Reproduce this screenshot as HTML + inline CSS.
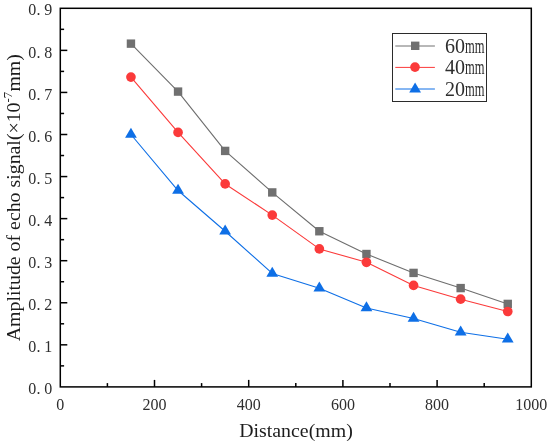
<!DOCTYPE html>
<html lang="en"><head><meta charset="utf-8"><title>Amplitude of echo signal vs Distance</title>
<style>html,body{margin:0;padding:0;background:#fff;}body{width:550px;height:445px;overflow:hidden;}svg{display:block;}text{font-family:"Liberation Serif",serif;fill:#2e2e2e;}.tk{font-size:16px;}.lg{font-size:20px;}.ttl{font-size:19.85px;fill:#1c1c1c;}</style></head><body>
<svg width="550" height="445" viewBox="0 0 550 445">
<rect x="0" y="0" width="550" height="445" fill="#ffffff"/>
<polyline points="130.95,43.64 178.05,91.59 225.15,150.91 272.25,192.43 319.35,231.25 366.45,254.01 413.55,272.90 460.65,288.09 507.75,303.90" fill="none" stroke="#6e6e6e" stroke-width="1.1" stroke-linejoin="round"/>
<rect x="126.75" y="39.44" width="8.40" height="8.40" fill="#707070"/>
<rect x="173.85" y="87.39" width="8.40" height="8.40" fill="#707070"/>
<rect x="220.95" y="146.71" width="8.40" height="8.40" fill="#707070"/>
<rect x="268.05" y="188.23" width="8.40" height="8.40" fill="#707070"/>
<rect x="315.15" y="227.05" width="8.40" height="8.40" fill="#707070"/>
<rect x="362.25" y="249.81" width="8.40" height="8.40" fill="#707070"/>
<rect x="409.35" y="268.70" width="8.40" height="8.40" fill="#707070"/>
<rect x="456.45" y="283.89" width="8.40" height="8.40" fill="#707070"/>
<rect x="503.55" y="299.70" width="8.40" height="8.40" fill="#707070"/>
<polyline points="130.95,77.08 178.05,132.40 225.15,183.93 272.25,215.10 319.35,248.92 366.45,262.30 413.55,285.44 460.65,299.19 507.75,311.52" fill="none" stroke="#fb3a3a" stroke-width="1.1" stroke-linejoin="round"/>
<circle cx="130.95" cy="77.08" r="4.85" fill="#fb3a3a"/>
<circle cx="178.05" cy="132.40" r="4.85" fill="#fb3a3a"/>
<circle cx="225.15" cy="183.93" r="4.85" fill="#fb3a3a"/>
<circle cx="272.25" cy="215.10" r="4.85" fill="#fb3a3a"/>
<circle cx="319.35" cy="248.92" r="4.85" fill="#fb3a3a"/>
<circle cx="366.45" cy="262.30" r="4.85" fill="#fb3a3a"/>
<circle cx="413.55" cy="285.44" r="4.85" fill="#fb3a3a"/>
<circle cx="460.65" cy="299.19" r="4.85" fill="#fb3a3a"/>
<circle cx="507.75" cy="311.52" r="4.85" fill="#fb3a3a"/>
<polyline points="130.95,134.50 178.05,190.53 225.15,231.25 272.25,273.40 319.35,288.25 366.45,308.02 413.55,318.46 460.65,332.21 507.75,339.20" fill="none" stroke="#0e6fe6" stroke-width="1.1" stroke-linejoin="round"/>
<polygon points="130.95,127.83 125.05,137.83 136.85,137.83" fill="#0e6fe6"/>
<polygon points="178.05,183.87 172.15,193.87 183.95,193.87" fill="#0e6fe6"/>
<polygon points="225.15,224.59 219.25,234.59 231.05,234.59" fill="#0e6fe6"/>
<polygon points="272.25,266.74 266.35,276.74 278.15,276.74" fill="#0e6fe6"/>
<polygon points="319.35,281.59 313.45,291.59 325.25,291.59" fill="#0e6fe6"/>
<polygon points="366.45,301.36 360.55,311.36 372.35,311.36" fill="#0e6fe6"/>
<polygon points="413.55,311.79 407.65,321.79 419.45,321.79" fill="#0e6fe6"/>
<polygon points="460.65,325.55 454.75,335.55 466.55,335.55" fill="#0e6fe6"/>
<polygon points="507.75,332.53 501.85,342.53 513.65,342.53" fill="#0e6fe6"/>
<rect x="60.30" y="8.30" width="471.00" height="378.60" fill="none" stroke="#000" stroke-width="1.5"/>
<line x1="60.30" y1="365.87" x2="64.10" y2="365.87" stroke="#000" stroke-width="1.5"/>
<line x1="60.30" y1="344.83" x2="67.30" y2="344.83" stroke="#000" stroke-width="1.5"/>
<line x1="60.30" y1="323.80" x2="64.10" y2="323.80" stroke="#000" stroke-width="1.5"/>
<line x1="60.30" y1="302.77" x2="67.30" y2="302.77" stroke="#000" stroke-width="1.5"/>
<line x1="60.30" y1="281.73" x2="64.10" y2="281.73" stroke="#000" stroke-width="1.5"/>
<line x1="60.30" y1="260.70" x2="67.30" y2="260.70" stroke="#000" stroke-width="1.5"/>
<line x1="60.30" y1="239.67" x2="64.10" y2="239.67" stroke="#000" stroke-width="1.5"/>
<line x1="60.30" y1="218.63" x2="67.30" y2="218.63" stroke="#000" stroke-width="1.5"/>
<line x1="60.30" y1="197.60" x2="64.10" y2="197.60" stroke="#000" stroke-width="1.5"/>
<line x1="60.30" y1="176.57" x2="67.30" y2="176.57" stroke="#000" stroke-width="1.5"/>
<line x1="60.30" y1="155.53" x2="64.10" y2="155.53" stroke="#000" stroke-width="1.5"/>
<line x1="60.30" y1="134.50" x2="67.30" y2="134.50" stroke="#000" stroke-width="1.5"/>
<line x1="60.30" y1="113.47" x2="64.10" y2="113.47" stroke="#000" stroke-width="1.5"/>
<line x1="60.30" y1="92.43" x2="67.30" y2="92.43" stroke="#000" stroke-width="1.5"/>
<line x1="60.30" y1="71.40" x2="64.10" y2="71.40" stroke="#000" stroke-width="1.5"/>
<line x1="60.30" y1="50.37" x2="67.30" y2="50.37" stroke="#000" stroke-width="1.5"/>
<line x1="60.30" y1="29.33" x2="64.10" y2="29.33" stroke="#000" stroke-width="1.5"/>
<line x1="107.40" y1="386.90" x2="107.40" y2="383.10" stroke="#000" stroke-width="1.5"/>
<line x1="154.50" y1="386.90" x2="154.50" y2="379.90" stroke="#000" stroke-width="1.5"/>
<line x1="201.60" y1="386.90" x2="201.60" y2="383.10" stroke="#000" stroke-width="1.5"/>
<line x1="248.70" y1="386.90" x2="248.70" y2="379.90" stroke="#000" stroke-width="1.5"/>
<line x1="295.80" y1="386.90" x2="295.80" y2="383.10" stroke="#000" stroke-width="1.5"/>
<line x1="342.90" y1="386.90" x2="342.90" y2="379.90" stroke="#000" stroke-width="1.5"/>
<line x1="390.00" y1="386.90" x2="390.00" y2="383.10" stroke="#000" stroke-width="1.5"/>
<line x1="437.10" y1="386.90" x2="437.10" y2="379.90" stroke="#000" stroke-width="1.5"/>
<line x1="484.20" y1="386.90" x2="484.20" y2="383.10" stroke="#000" stroke-width="1.5"/>
<text class="tk" y="394.05"><tspan x="28.30">0</tspan><tspan x="36.50">.</tspan><tspan x="44.30">0</tspan></text>
<text class="tk" y="351.98"><tspan x="28.30">0</tspan><tspan x="36.50">.</tspan><tspan x="44.30">1</tspan></text>
<text class="tk" y="309.92"><tspan x="28.30">0</tspan><tspan x="36.50">.</tspan><tspan x="44.30">2</tspan></text>
<text class="tk" y="267.85"><tspan x="28.30">0</tspan><tspan x="36.50">.</tspan><tspan x="44.30">3</tspan></text>
<text class="tk" y="225.78"><tspan x="28.30">0</tspan><tspan x="36.50">.</tspan><tspan x="44.30">4</tspan></text>
<text class="tk" y="183.72"><tspan x="28.30">0</tspan><tspan x="36.50">.</tspan><tspan x="44.30">5</tspan></text>
<text class="tk" y="141.65"><tspan x="28.30">0</tspan><tspan x="36.50">.</tspan><tspan x="44.30">6</tspan></text>
<text class="tk" y="99.58"><tspan x="28.30">0</tspan><tspan x="36.50">.</tspan><tspan x="44.30">7</tspan></text>
<text class="tk" y="57.52"><tspan x="28.30">0</tspan><tspan x="36.50">.</tspan><tspan x="44.30">8</tspan></text>
<text class="tk" y="15.45"><tspan x="28.30">0</tspan><tspan x="36.50">.</tspan><tspan x="44.30">9</tspan></text>
<text class="tk" x="60.30" y="409.60" text-anchor="middle">0</text>
<text class="tk" x="154.50" y="409.60" text-anchor="middle">200</text>
<text class="tk" x="248.70" y="409.60" text-anchor="middle">400</text>
<text class="tk" x="342.90" y="409.60" text-anchor="middle">600</text>
<text class="tk" x="437.10" y="409.60" text-anchor="middle">800</text>
<text class="tk" x="531.30" y="409.60" text-anchor="middle">1000</text>
<text class="ttl" x="296" y="436.5" text-anchor="middle">Distance(mm)</text>
<text class="ttl" transform="translate(19.8,197.7) rotate(-90)" text-anchor="middle">Amplitude of echo signal(×10<tspan font-size="13" dy="-8.2">-7</tspan><tspan dy="8.2">mm)</tspan></text>
<rect x="392.5" y="33.5" width="94" height="68" fill="#fff" stroke="#2b2b2b" stroke-width="1"/>
<line x1="395.3" y1="46.00" x2="434.9" y2="46.00" stroke="#707070" stroke-width="1"/>
<rect x="411.00" y="41.60" width="8.40" height="8.40" fill="#707070"/>
<text class="lg" x="445" y="52.50">60<tspan textLength="19.5" lengthAdjust="spacingAndGlyphs">mm</tspan></text>
<line x1="395.3" y1="67.40" x2="434.9" y2="67.40" stroke="#fb3a3a" stroke-width="1"/>
<circle cx="415.0" cy="67.10" r="4.85" fill="#fb3a3a"/>
<text class="lg" x="445" y="73.70">40<tspan textLength="19.5" lengthAdjust="spacingAndGlyphs">mm</tspan></text>
<line x1="395.3" y1="89.00" x2="434.9" y2="89.00" stroke="#0e6fe6" stroke-width="1"/>
<polygon points="415.10,82.53 409.20,92.53 421.00,92.53" fill="#0e6fe6"/>
<text class="lg" x="445" y="96.20">20<tspan textLength="19.5" lengthAdjust="spacingAndGlyphs">mm</tspan></text>
</svg></body></html>
